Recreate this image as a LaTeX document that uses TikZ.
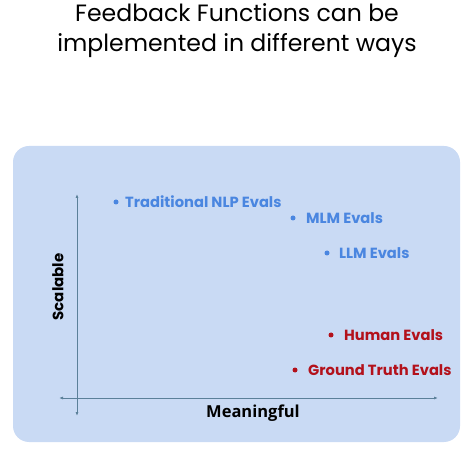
\documentclass[tikz,border=0pt]{standalone}
\usepackage{fontspec}
\setmainfont{Poppins}
\newfontfamily\opensans{Open Sans}
\definecolor{panel}{HTML}{C9DAF4}
\definecolor{axis}{HTML}{5B8099}
\definecolor{evblue}{HTML}{4A86E0}
\definecolor{evred}{HTML}{B3111B}
\tikzset{
  evlabel/.style={anchor=west, inner sep=0pt, font=\fontsize{14.7}{17}\selectfont\bfseries},
  evdot/.style={circle, fill, inner sep=0pt, minimum size=5pt},
  axisline/.style={draw=axis, line width=0.8pt, -{Latex[length=4pt,width=3pt]}},
}
\usetikzlibrary{arrows.meta}
\begin{document}
\begin{tikzpicture}[x=1pt,y=-1pt]
\useasboundingbox (0,0) rectangle (474,454);
\node[font=\fontsize{23.6}{30}\selectfont, align=center, anchor=north, inner sep=0pt] (title) at (237,3)
  {Feedback Functions can be\\implemented in different ways};
\fill[panel, rounded corners=16pt] (13,146) rectangle (460,442);
% axes
\coordinate (origin) at (77,398);
\coordinate (ytop) at (77,194);
\coordinate (ybot) at (77,416);
\coordinate (xleft) at (59,398);
\coordinate (xright) at (438,398);
\draw[axisline] (origin) -- (ytop);
\draw[axisline] (origin) -- (ybot);
\draw[axisline] (origin) -- (xleft);
\draw[axisline] (origin) -- (xright);
\node[rotate=90, font=\fontsize{15}{17}\selectfont\bfseries, inner sep=0pt] (scal) at (58,287) {Scalable};
\node[font=\opensans\fontsize{16.5}{18}\selectfont\bfseries, inner sep=0pt] (mean) at (253,413) {Meaningful};
% points
\node[evdot, evblue] (d1) at (116,202) {};
\node[evlabel, evblue] (t1) at (125,202) {Traditional NLP Evals};
\node[evdot, evblue] (d2) at (293,218) {};
\node[evlabel, evblue] (t2) at (306,218) {MLM Evals};
\node[evdot, evblue] (d3) at (327,253) {};
\node[evlabel, evblue] (t3) at (339,253) {LLM Evals};
\node[evdot, evred] (d4) at (331,335) {};
\node[evlabel, evred] (t4) at (344,335) {Human Evals};
\node[evdot, evred] (d5) at (295,370) {};
\node[evlabel, evred] (t5) at (308,370) {Ground Truth Evals};
\end{tikzpicture}
\end{document}
